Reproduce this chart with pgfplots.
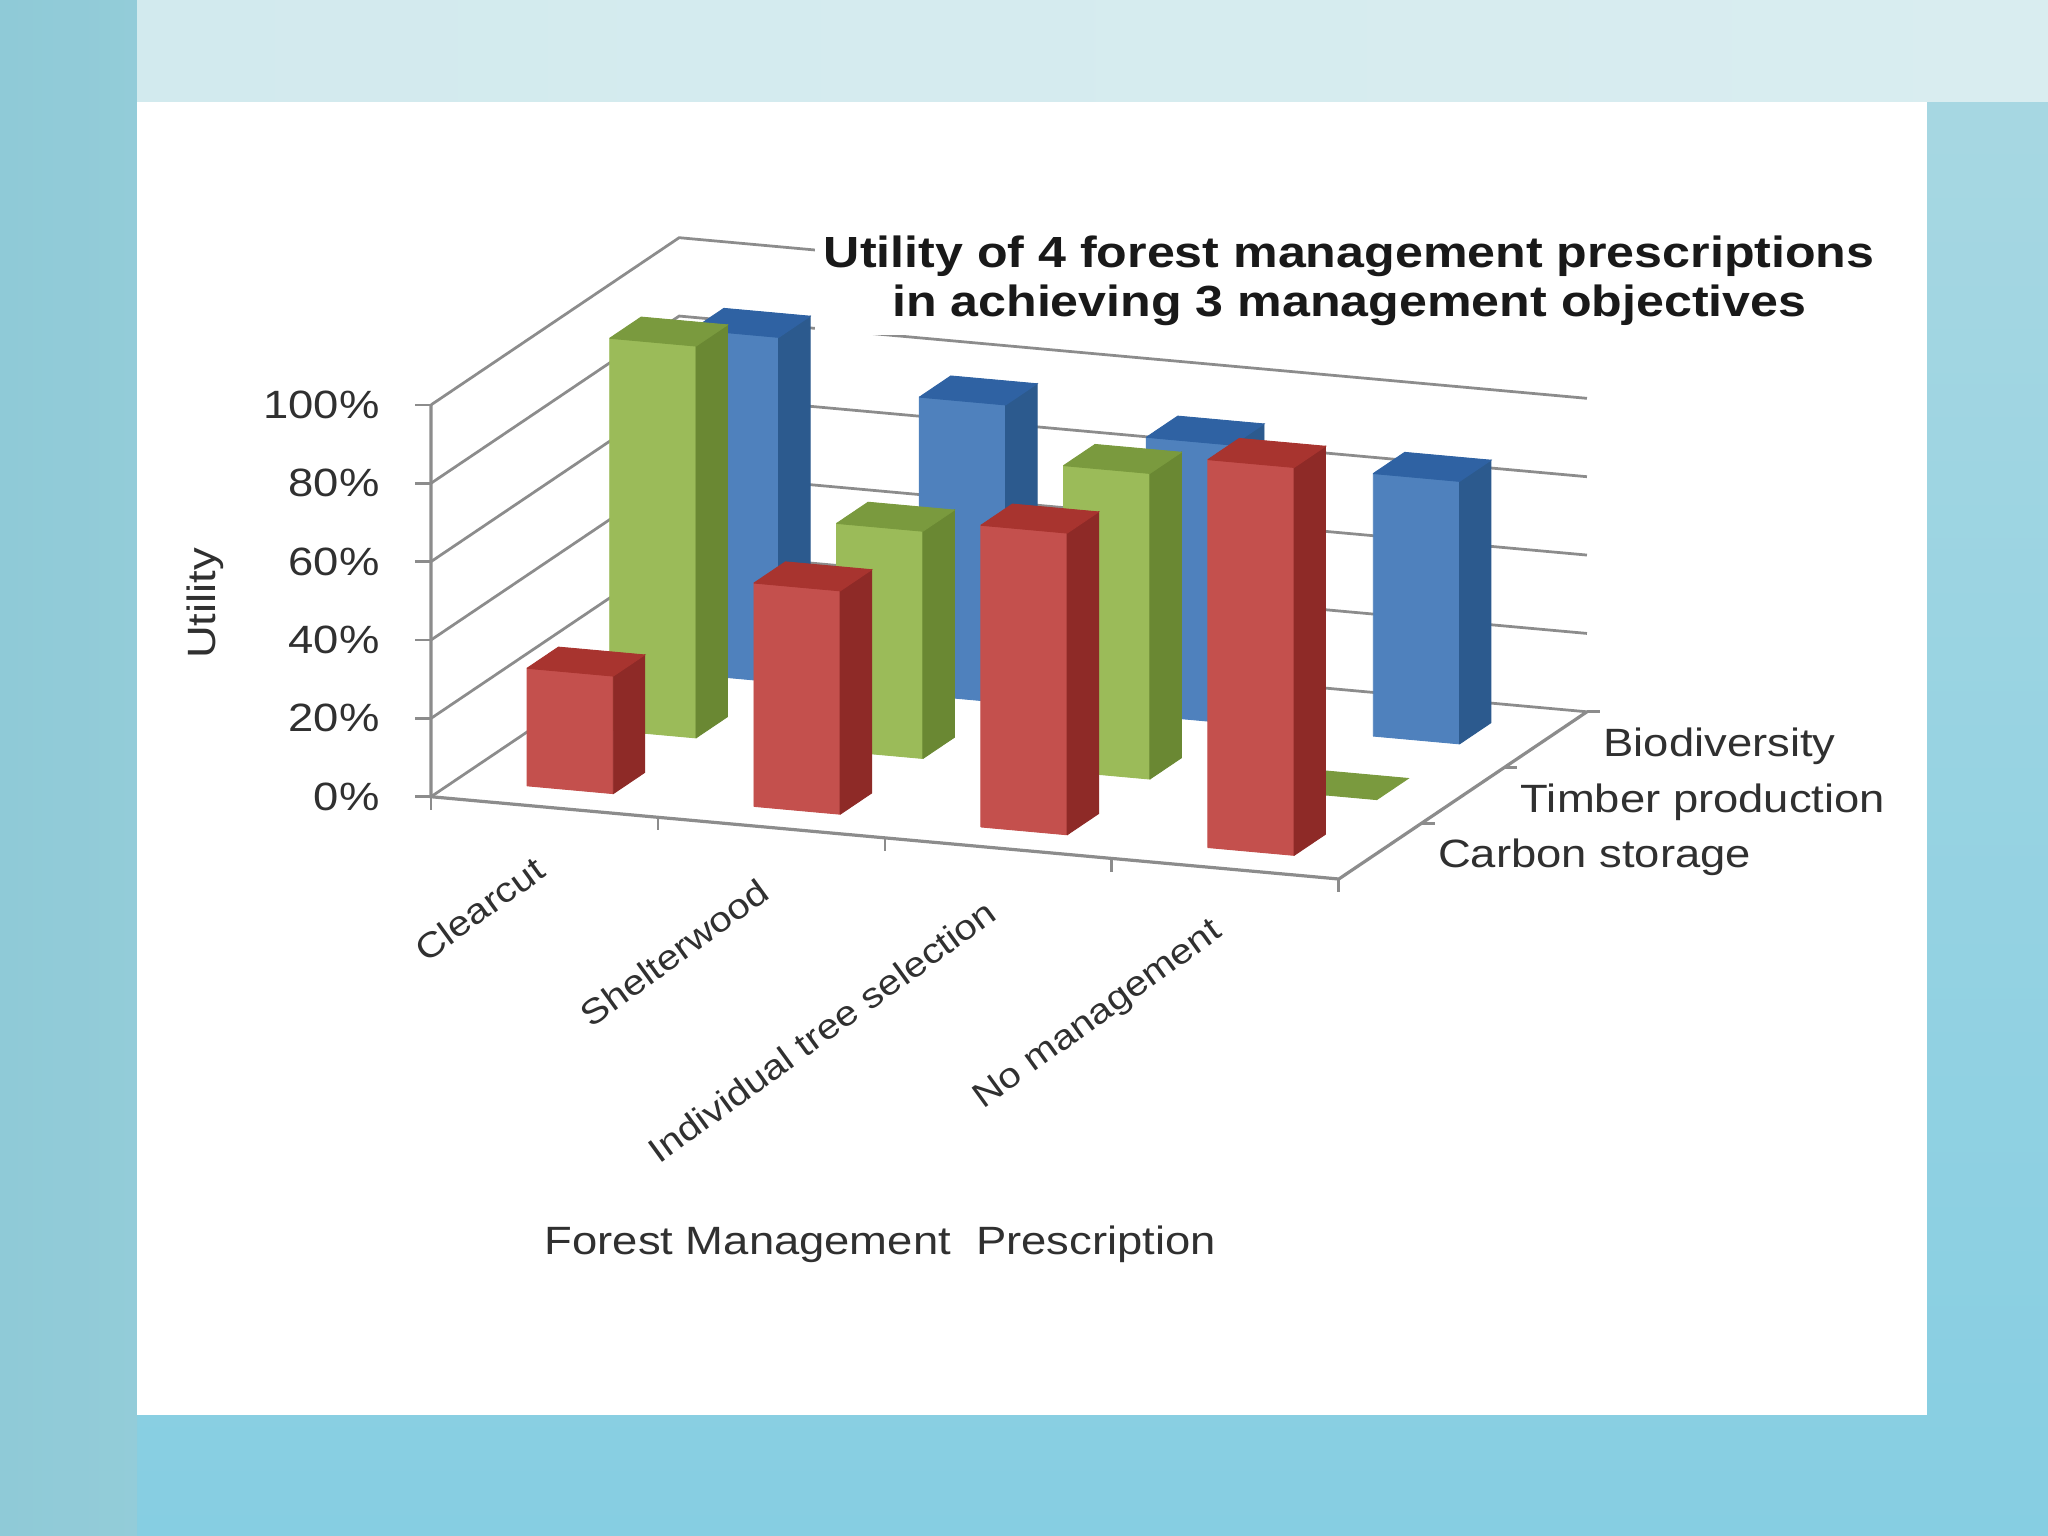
\documentclass[border=0pt]{standalone}
\usepackage{fontspec}
\setmainfont{Liberation Sans}[FakeStretch=1.15]
\usepackage{pgfplots}
\pgfplotsset{compat=1.18}
\usetikzlibrary{backgrounds}

\definecolor{redF}{HTML}{C4504D}
\definecolor{redT}{HTML}{A8342F}
\definecolor{redS}{HTML}{8E2A27}
\definecolor{greenF}{HTML}{9BBB59}
\definecolor{greenT}{HTML}{7A9A3E}
\definecolor{greenS}{HTML}{6A8833}
\definecolor{blueF}{HTML}{4F81BD}
\definecolor{blueT}{HTML}{2F62A3}
\definecolor{blueS}{HTML}{2C5A8E}
\definecolor{gridc}{HTML}{8C8C8C}
\definecolor{txt}{HTML}{303030}
\definecolor{bgTop}{HTML}{A9D8E2}
\definecolor{bgBot}{HTML}{86CEE2}
\definecolor{bgLeft}{HTML}{8FCAD7}
\definecolor{bandA}{HTML}{D2EAEE}
\definecolor{bandB}{HTML}{D9EDF0}

% x0 x1 y0 y1 value colour
\newcommand\cuboid[6]{%
  \addplot3[fill=#6F,draw=#6F,line width=0.2pt] coordinates {(#1,#3,0) (#2,#3,0) (#2,#3,#5) (#1,#3,#5) (#1,#3,0)};
  \addplot3[fill=#6S,draw=#6S,line width=0.2pt] coordinates {(#2,#3,0) (#2,#4,0) (#2,#4,#5) (#2,#3,#5) (#2,#3,0)};
  \addplot3[fill=#6T,draw=#6T,line width=0.2pt] coordinates {(#1,#3,#5) (#2,#3,#5) (#2,#4,#5) (#1,#4,#5) (#1,#3,#5)};
}

\begin{document}
\begin{tikzpicture}
\begin{axis}[
  x={(1.7375cm,-0.1575cm)}, y={(0.6333cm,0.4267cm)}, z={(0cm,0.03cm)},
  xmin=0,xmax=4,ymin=0,ymax=3,zmin=0,zmax=100,
  hide axis, clip=false,
]
\coordinate (O) at (axis cs:0,0,0);
% walls: grid lines on the left and back walls
\draw[gridc,line width=0.6pt] (axis cs:0,0,0) -- (axis cs:0,3,0) -- (axis cs:4,3,0);
\draw[gridc,line width=0.6pt] (axis cs:0,0,20) -- (axis cs:0,3,20) -- (axis cs:4,3,20);
\draw[gridc,line width=0.6pt] (axis cs:0,0,40) -- (axis cs:0,3,40) -- (axis cs:4,3,40);
\draw[gridc,line width=0.6pt] (axis cs:0,0,60) -- (axis cs:0,3,60) -- (axis cs:4,3,60);
\draw[gridc,line width=0.6pt] (axis cs:0,0,80) -- (axis cs:0,3,80) -- (axis cs:4,3,80);
\draw[gridc,line width=0.6pt] (axis cs:0,0,100) -- (axis cs:0,3,100) -- (axis cs:4,3,100);
% axes
\draw[gridc,line width=0.7pt] (axis cs:0,0,100) -- (axis cs:0,0,0) -- (axis cs:4,0,0) -- (axis cs:4,3,0);
\draw[gridc,line width=0.6pt] (axis cs:0,0,0) -- ++(-0.12cm,0);
\draw[gridc,line width=0.6pt] (axis cs:0,0,20) -- ++(-0.12cm,0);
\draw[gridc,line width=0.6pt] (axis cs:0,0,40) -- ++(-0.12cm,0);
\draw[gridc,line width=0.6pt] (axis cs:0,0,60) -- ++(-0.12cm,0);
\draw[gridc,line width=0.6pt] (axis cs:0,0,80) -- ++(-0.12cm,0);
\draw[gridc,line width=0.6pt] (axis cs:0,0,100) -- ++(-0.12cm,0);
\draw[gridc,line width=0.6pt] (axis cs:0,0,0) -- ++(0,-0.1cm);
\draw[gridc,line width=0.6pt] (axis cs:1,0,0) -- ++(0,-0.1cm);
\draw[gridc,line width=0.6pt] (axis cs:2,0,0) -- ++(0,-0.1cm);
\draw[gridc,line width=0.6pt] (axis cs:3,0,0) -- ++(0,-0.1cm);
\draw[gridc,line width=0.6pt] (axis cs:4,0,0) -- ++(0,-0.1cm);
\draw[gridc,line width=0.6pt] (axis cs:4,1,0) -- ++(0.1cm,0);
\draw[gridc,line width=0.6pt] (axis cs:4,2,0) -- ++(0.1cm,0);
\draw[gridc,line width=0.6pt] (axis cs:4,3,0) -- ++(0.1cm,0);

% Biodiversity (back row)
\cuboid{0.31}{0.69}{2.31}{2.69}{88}{blue}
\cuboid{1.31}{1.69}{2.31}{2.69}{76}{blue}
\cuboid{2.31}{2.69}{2.31}{2.69}{71}{blue}
\cuboid{3.31}{3.69}{2.31}{2.69}{67}{blue}
% Timber production (middle row)
\cuboid{0.31}{0.69}{1.31}{1.69}{100}{green}
\cuboid{1.31}{1.69}{1.31}{1.69}{58}{green}
\cuboid{2.31}{2.69}{1.31}{1.69}{78}{green}
\addplot3[fill=greenT,draw=greenT,line width=0.2pt] coordinates {(3.31,1.31,0) (3.69,1.31,0) (3.69,1.69,0) (3.31,1.69,0) (3.31,1.31,0)};
% Carbon storage (front row)
\cuboid{0.31}{0.69}{0.31}{0.69}{30}{red}
\cuboid{1.31}{1.69}{0.31}{0.69}{57}{red}
\cuboid{2.31}{2.69}{0.31}{0.69}{77}{red}
\cuboid{3.31}{3.69}{0.31}{0.69}{99}{red}

% tick labels
\begin{scope}[font=\fontsize{8.6}{10}\selectfont, text=txt]
\node[anchor=east,xshift=-0.27cm] at (axis cs:0,0,0) {0\%};
\node[anchor=east,xshift=-0.27cm] at (axis cs:0,0,20) {20\%};
\node[anchor=east,xshift=-0.27cm] at (axis cs:0,0,40) {40\%};
\node[anchor=east,xshift=-0.27cm] at (axis cs:0,0,60) {60\%};
\node[anchor=east,xshift=-0.27cm] at (axis cs:0,0,80) {80\%};
\node[anchor=east,xshift=-0.27cm] at (axis cs:0,0,100) {100\%};
\node[anchor=west,xshift=0.32cm,yshift=-0.05cm] at (axis cs:4,0.5,0) {Carbon storage};
\node[anchor=west,xshift=0.32cm,yshift=-0.05cm] at (axis cs:4,1.5,0) {Timber production};
\node[anchor=west,xshift=0.32cm,yshift=-0.05cm] at (axis cs:4,2.5,0) {Biodiversity};
\end{scope}
\begin{scope}[font=\fontsize{7.6}{9}\selectfont, text=txt]
\node[anchor=east,rotate=36,xshift=0.08cm] at (axis cs:0.5,0,-14) {Clearcut};
\node[anchor=east,rotate=36,xshift=0.06cm] at (axis cs:1.5,0,-14) {Shelterwood};
\node[anchor=east,rotate=36,xshift=0.06cm] at (axis cs:2.5,0,-14) {Individual tree selection};
\node[anchor=east,rotate=36,xshift=0.06cm] at (axis cs:3.5,0,-14) {No management};
\end{scope}
\end{axis}

\begin{scope}[on background layer, shift={(O)}, xshift=-3.30cm, yshift=-5.66cm]
  \shade[top color=bgTop, bottom color=bgBot] (0,0) rectangle (15.68,11.76);
  \shade[left color=bgLeft, right color=bgLeft!85!bgTop] (0,0) rectangle (1.05,11.76);
  \shade[left color=bandA, right color=bandB] (1.05,10.98) rectangle (15.68,11.76);
  \fill[white] (1.05,0.93) rectangle (14.75,10.98);
\end{scope}

\begin{scope}[shift={(O)}, xshift=-3.30cm, yshift=-5.66cm]
  \node[fill=white, inner sep=2pt, align=center, text=black!90,
        font=\fontsize{9.5}{10.8}\selectfont\bfseries] at (10.33,9.61)
        {Utility of 4 forest management prescriptions\\in achieving 3 management objectives};
  \node[rotate=90, text=txt, font=\fontsize{8.6}{10}\selectfont] at (1.57,7.14) {Utility};
  \node[text=txt, font=\fontsize{8.6}{10}\selectfont] at (6.74,2.23) {Forest Management\ \ Prescription};
  \pgfresetboundingbox
  \path (0,0) rectangle (15.68,11.76);
\end{scope}
\end{tikzpicture}
\end{document}
